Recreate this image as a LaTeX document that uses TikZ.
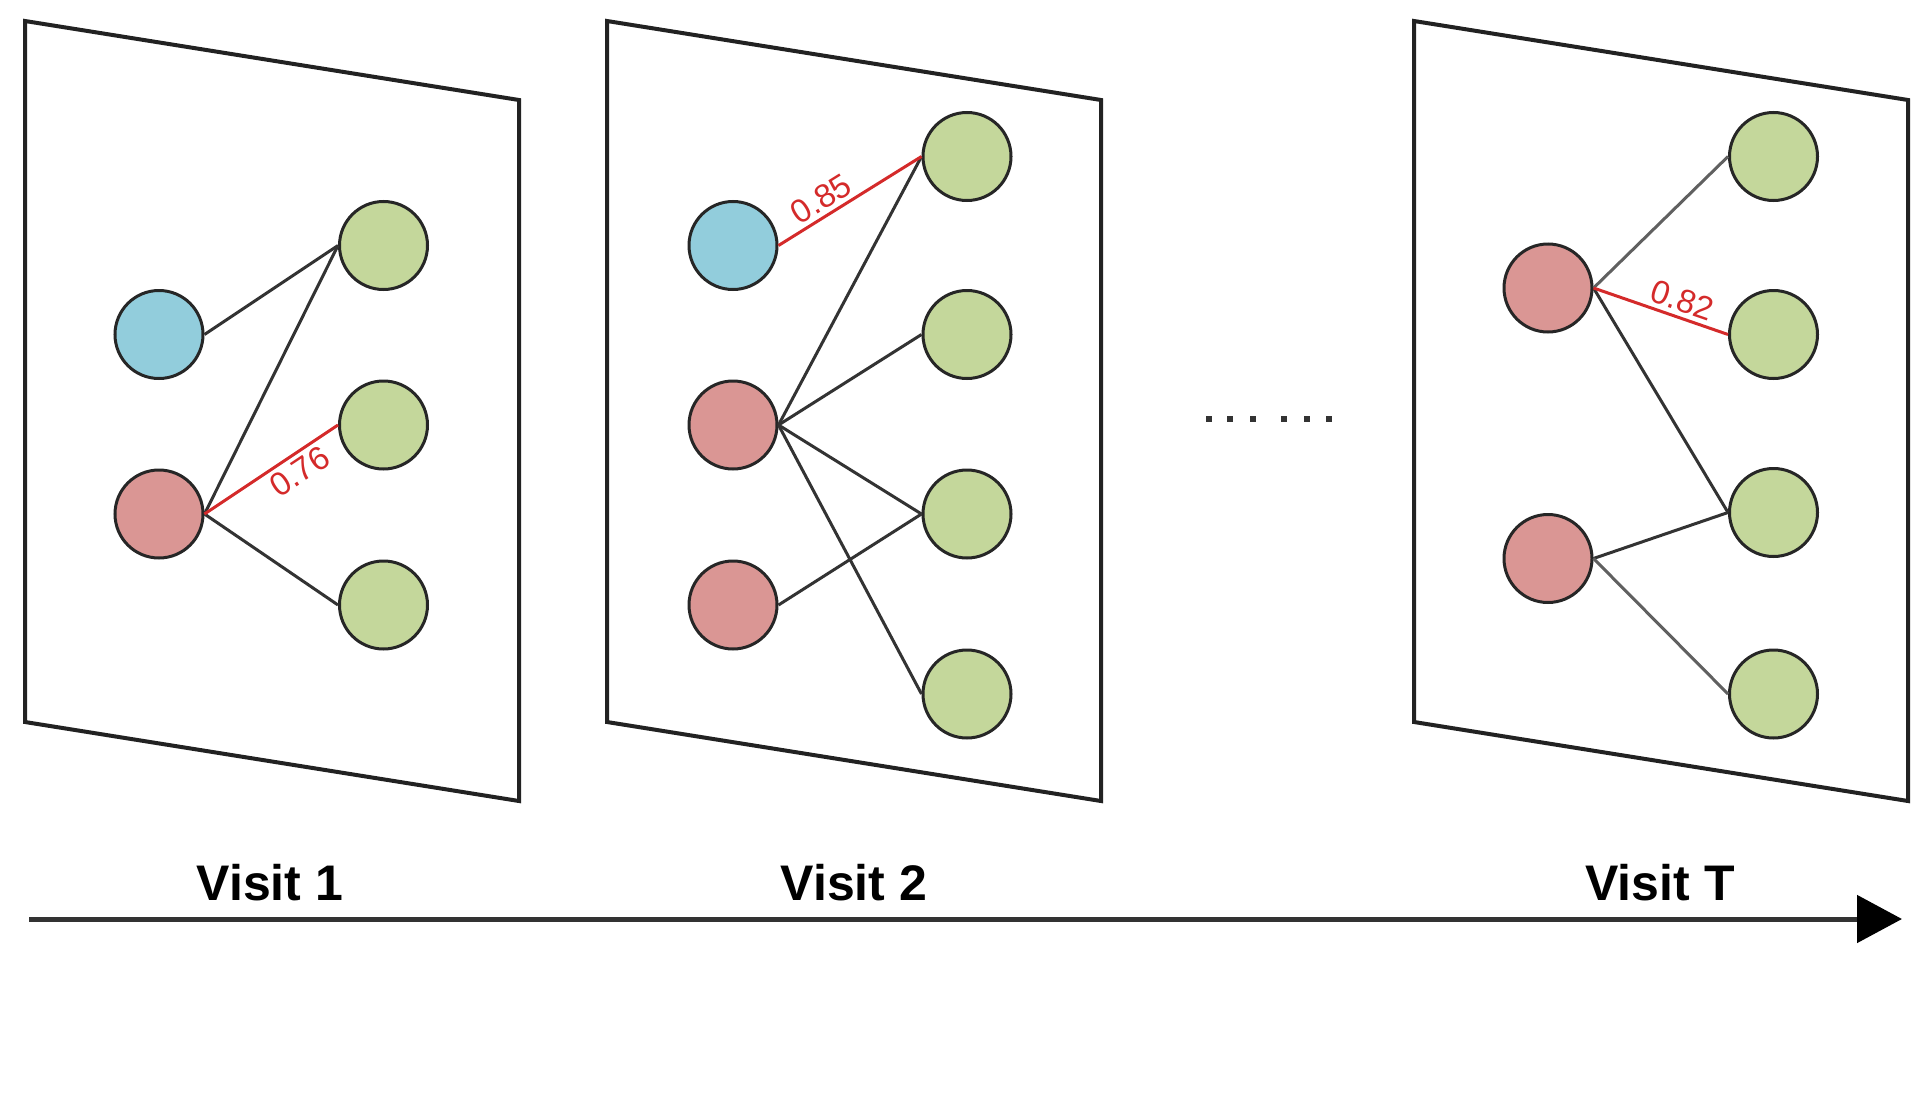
\documentclass[tikz,border=0pt]{standalone}
\usepackage{fontspec}
\setmainfont{Liberation Sans}
\usetikzlibrary{arrows.meta}
\definecolor{cblue}{HTML}{92CDDC}
\definecolor{cred}{HTML}{DA9694}
\definecolor{cgreen}{HTML}{C4D79B}
\definecolor{edgedark}{HTML}{333333}
\definecolor{edgegray}{HTML}{606060}
\definecolor{wred}{HTML}{D42A2A}
\definecolor{framec}{HTML}{222222}
\tikzset{
  vnode/.style={circle,draw=black!85,line width=3pt,minimum size=88pt,inner sep=0pt},
  bnode/.style={vnode,fill=cblue},
  rnode/.style={vnode,fill=cred},
  gnode/.style={vnode,fill=cgreen},
  edge/.style={draw=edgedark,line width=3pt},
  edgel/.style={draw=edgegray,line width=3pt},
  wedge/.style={draw=wred,line width=3pt},
  wlabel/.style={text=wred,font=\fontsize{33}{33}\selectfont,sloped,inner sep=4pt},
  frame/.style={draw=framec,line width=4pt,line join=miter},
  visit/.style={font=\bfseries\fontsize{50}{50}\selectfont,anchor=base,inner sep=0pt},
  dotm/.style={fill=black!80}
}
\begin{document}
\begin{tikzpicture}[x=1pt,y=-1pt]
\useasboundingbox (0,0) rectangle (1928,1116);
% frames
\draw[frame] (25,21) -- (519,100) -- (519,801) -- (25,722) -- cycle;
\draw[frame] (607,21) -- (1101,100) -- (1101,801) -- (607,722) -- cycle;
\draw[frame] (1414,21) -- (1908,100) -- (1908,801) -- (1414,722) -- cycle;

% visit 1
\node[bnode] (a1) at (159,334.5) {};
\node[rnode] (a2) at (159,514) {};
\node[gnode] (ag1) at (383.5,245.5) {};
\node[gnode] (ag2) at (383.5,425) {};
\node[gnode] (ag3) at (383.5,605) {};
\draw[edge] (a1.east) -- (ag1.west);
\draw[edge] (a2.east) -- (ag1.west);
\draw[edge] (a2.east) -- (ag3.west);
\draw[wedge] (a2.east) -- node[wlabel,below,pos=0.64] {0.76} (ag2.west);

% visit 2
\node[bnode] (b1) at (733,245.5) {};
\node[rnode] (b2) at (733,425) {};
\node[rnode] (b3) at (733,605) {};
\node[gnode] (bg1) at (967,156.5) {};
\node[gnode] (bg2) at (967,334.5) {};
\node[gnode] (bg3) at (967,514) {};
\node[gnode] (bg4) at (967,694) {};
\draw[edge] (b2.east) -- (bg1.west);
\draw[edge] (b2.east) -- (bg2.west);
\draw[edge] (b2.east) -- (bg3.west);
\draw[edge] (b2.east) -- (bg4.west);
\draw[edge] (b3.east) -- (bg3.west);
\draw[wedge] (b1.east) -- node[wlabel,above,pos=0.36] {0.85} (bg1.west);

% visit T
\node[rnode] (c1) at (1548,288) {};
\node[rnode] (c2) at (1548,558.5) {};
\node[gnode] (cg1) at (1773.5,156.5) {};
\node[gnode] (cg2) at (1773.5,334.5) {};
\node[gnode] (cg3) at (1773.5,512.5) {};
\node[gnode] (cg4) at (1773.5,694) {};
\draw[edgel] (c1.east) -- (cg1.west);
\draw[edge] (c1.east) -- (cg3.west);
\draw[edge] (c2.east) -- (cg3.west);
\draw[edgel] (c2.east) -- (cg4.west);
\draw[wedge] (c1.east) -- node[wlabel,above,pos=0.62] {0.82} (cg2.west);

% dots
\foreach \x in {1209,1230,1253,1284,1307,1329}
  \fill[dotm] (\x-2.7,416.3) rectangle (\x+2.7,421.7);

% axis
\coordinate (ax0) at (29,919);
\coordinate (ax1) at (1902,919);
\draw[draw=black!80,line width=5pt,-{Triangle[length=45pt,width=47pt,fill=black,color=black]}] (ax0) -- (ax1);

% labels
\node[visit] (v1) at (270,900) {Visit 1};
\node[visit] (v2) at (854,900) {Visit 2};
\node[visit] (v3) at (1660,900) {Visit T};
\end{tikzpicture}
\end{document}
